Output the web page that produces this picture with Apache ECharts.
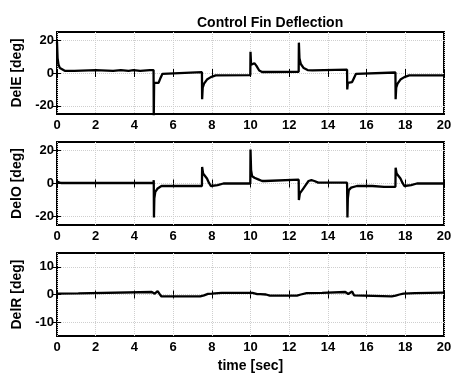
<!DOCTYPE html>
<html>
<head>
<meta charset="utf-8">
<script src="https://cdn.jsdelivr.net/npm/echarts@6/dist/echarts.min.js"></script>
<style>html,body{margin:0;padding:0;background:#fff}#c{width:474px;height:386px}</style>
</head>
<body>
<div id="c"></div>
<script>
// ---- data ----
const title = "Control Fin Deflection";
const yNames = ["DelE [deg]", "DelO [deg]", "DelR [deg]"];
const xName = "time [sec]";
const xTicks = [0, 2, 4, 6, 8, 10, 12, 14, 16, 18, 20];
const yTicksEO = [-20, 0, 20];
const yTicksR = [-10, 0, 10];

const tE = [0, 0.03, 0.08, 0.15, 0.25, 0.4, 0.9, 1.0, 2.0, 2.1, 2.9, 3.0, 3.3, 3.4, 3.7, 3.8, 3.95, 4.05, 4.3, 4.4, 4.8, 4.99, 5.0, 5.02, 5.1, 5.25, 5.35, 5.45, 5.55, 7.49, 7.5, 7.53, 7.6, 7.75, 7.95, 8.2, 9.99, 10.0, 10.03, 10.1, 10.2, 10.3, 10.45, 10.6, 12.49, 12.5, 12.53, 12.6, 12.75, 12.95, 13.2, 13.3, 14.99, 15.0, 15.03, 15.25, 15.35, 15.45, 15.55, 17.49, 17.5, 17.53, 17.6, 17.75, 17.95, 18.2, 20];
const dE = [19, 9, 5, 3, 2, 1.3, 1.3, 1.7, 1.7, 1.3, 1.3, 1.8, 1.8, 1.3, 1.3, 1.7, 1.7, 1.3, 1.3, 1.8, 1.8, 1.8, -27, -6, -6.5, -6, -3, -0.5, 0.6, 0.5, -16, -9, -6.5, -4, -2.5, -1.5, -1.3, 13, 5, 6, 6, 4.5, 1.5, 0.6, 0.7, 18.5, 9, 5.5, 3, 1.8, 1.6, 2, 2, -10, -6, -5.5, -3, -0.5, 0.6, 0.3, -16, -9, -6.5, -4, -2.5, -1.5, -1.5];

const tO = [0, 0.1, 0.2, 4.99, 5.0, 5.01, 5.03, 5.08, 5.2, 5.4, 7.49, 7.5, 7.55, 7.65, 7.75, 7.85, 7.95, 8.05, 8.3, 8.6, 9.99, 10.0, 10.03, 10.08, 10.2, 10.4, 10.6, 10.75, 10.85, 12.49, 12.5, 12.55, 12.7, 12.85, 13.0, 13.15, 13.3, 13.5, 14.99, 15.0, 15.01, 15.03, 15.08, 15.2, 15.5, 16.3, 16.4, 16.9, 17.0, 17.1, 17.49, 17.5, 17.55, 17.65, 17.75, 17.85, 17.95, 18.05, 18.3, 18.6, 20];
const dO = [1.2, 1, 0.3, 0.3, 2, -20.5, -9, -5, -3, -1.5, -1.5, 10, 6, 5, 3, 0.5, -1.5, -2, -1, 0, 0, 20.5, 8, 4.5, 3.5, 2.5, 1.5, 1.5, 2.3, 2.3, -10, -6, -3.5, -1, 1.5, 2, 1.5, 0.5, 0.5, 1, -20.5, -9, -4, -2.5, -1.5, -1.5, -2, -2, -1.5, -2, -2, 9.5, 6, 5, 3, 0.5, -1.5, -2, -1, 0, 0];

const tR = [0, 1.1, 1.2, 4.9, 5.05, 5.12, 5.2, 5.3, 5.4, 7.4, 7.6, 7.8, 8.0, 8.5, 10.1, 10.2, 10.35, 10.5, 10.8, 11.0, 12.4, 12.6, 12.9, 13.7, 13.8, 14.9, 15.05, 15.15, 15.25, 15.35, 15.45, 17.3, 17.5, 17.7, 17.9, 18.5, 18.6, 20];
const dR = [0.3, 0.4, 0.9, 0.9, 0.3, 0.8, 1.2, 0.2, -0.7, -0.7, -0.3, 0.2, 0.3, 0.6, 0.6, 1.3, 0.1, 0.1, 0, -0.4, -0.4, 0, 0.5, 0.6, 0.9, 0.9, 0.2, 0.8, 1.1, -0.3, -0.7, -0.7, -0.4, 0, 0.3, 0.5, 0.7, 0.7];

// ---- chart ----
const FONT = "Liberation Sans, Arial, Helvetica, sans-serif";
const pair = (t, v) => t.map((x, i) => [x, v[i]]);
const grids = [
  {left: 57, top: 32, width: 387, height: 82},
  {left: 57, top: 142, width: 387, height: 83},
  {left: 57, top: 253, width: 387, height: 83}
].map(g => Object.assign(g, {show: true, borderColor: '#000', borderWidth: 2, backgroundColor: 'transparent'}));

const lab = {color: '#000', fontFamily: FONT, fontWeight: 'bold', fontSize: 13};
const nameStyle = {color: '#000', fontFamily: FONT, fontWeight: 'bold', fontSize: 14};
const splitL = {show: true, lineStyle: {color: '#cfcfcf', type: 'dotted', width: 1}};

const xAxes = [], yAxes = [], series = [];
const ranges = [[-25, 25, yTicksEO], [-25, 25, yTicksEO], [-15, 15, yTicksR]];
const datas = [pair(tE, dE), pair(tO, dO), pair(tR, dR)];
for (let i = 0; i < 3; i++) {
  xAxes.push({
    type: 'value', gridIndex: i, min: 0, max: 20, interval: 2,
    axisLine: {show: false},
    axisTick: {show: true, inside: true, length: 4, lineStyle: {color: '#000'}},
    axisLabel: Object.assign({margin: 5, customValues: xTicks}, lab),
    splitLine: splitL,
    name: i === 2 ? xName : '', nameLocation: 'middle', nameGap: 23,
    nameTextStyle: nameStyle
  });
  xAxes.push({
    type: 'value', gridIndex: i, min: 0, max: 20, interval: 2, position: 'top',
    axisLine: {show: false}, axisLabel: {show: false}, splitLine: {show: false},
    axisTick: {show: true, inside: true, length: 4, lineStyle: {color: '#000'}}
  });
  const [mn, mx, tk] = ranges[i];
  yAxes.push({
    type: 'value', gridIndex: i, min: mn, max: mx,
    axisLine: {show: false},
    axisTick: {show: true, inside: true, length: 4, customValues: tk, lineStyle: {color: '#000'}},
    axisLabel: Object.assign({margin: 3, customValues: tk}, lab),
    splitLine: splitL,
    name: yNames[i], nameLocation: 'middle', nameGap: 24,
    nameTextStyle: nameStyle
  });
  yAxes.push({
    type: 'value', gridIndex: i, min: mn, max: mx, position: 'right',
    axisLine: {show: false}, axisLabel: {show: false}, splitLine: {show: false},
    axisTick: {show: true, inside: true, length: 4, customValues: tk, lineStyle: {color: '#000'}}
  });
  series.push({
    type: 'line', xAxisIndex: 2 * i, yAxisIndex: 2 * i, data: datas[i],
    showSymbol: false, symbol: 'none', clip: true, animation: false,
    lineStyle: {color: '#000', width: 2.3}
  });
}

const chart = echarts.init(document.getElementById('c'), null, {renderer: 'canvas'});
chart.setOption({
  backgroundColor: '#fff',
  animation: false,
  title: {text: title, left: 192, top: 11, textStyle: Object.assign({}, nameStyle)},
  grid: grids,
  xAxis: xAxes,
  yAxis: yAxes,
  series: series
});
</script>
</body>
</html>
